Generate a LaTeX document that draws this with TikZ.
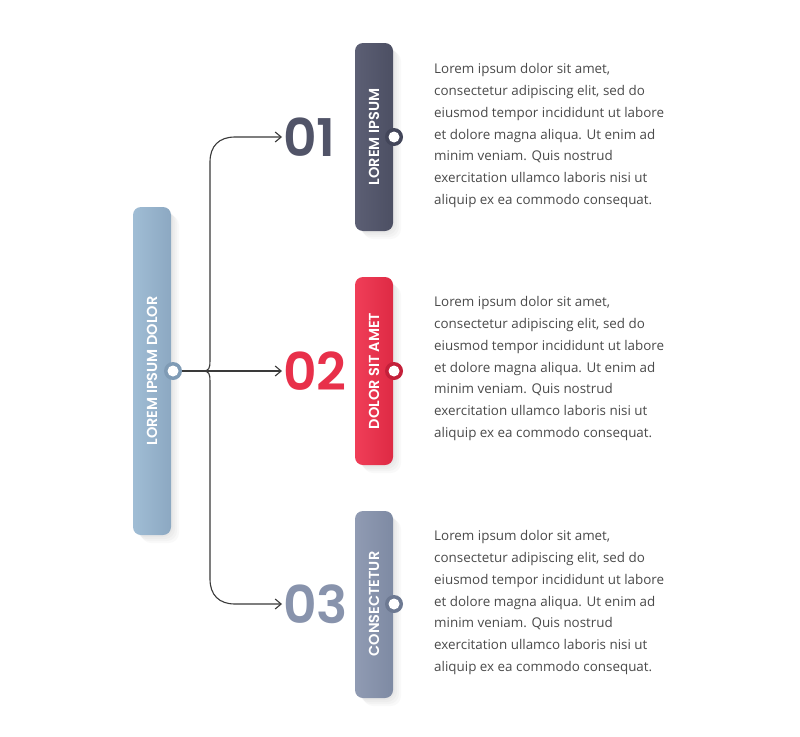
\documentclass[tikz,border=0pt]{standalone}
\usepackage{fontspec}
\setmainfont{Open Sans}
\newfontfamily\popfont{Poppins}[UprightFont={* SemiBold}]
\usetikzlibrary{arrows.meta}
\definecolor{lineC}{HTML}{3A3A3A}
\definecolor{txtC}{HTML}{4A4A4A}
\definecolor{barL}{HTML}{A0BDD5}
\definecolor{barR}{HTML}{8CA8C2}
\definecolor{barRing}{HTML}{7F9BB5}
\definecolor{oneL}{HTML}{5C5F74}
\definecolor{oneR}{HTML}{4C4F63}
\definecolor{oneRing}{HTML}{43465A}
\definecolor{oneNum}{HTML}{515468}
\definecolor{twoL}{HTML}{F03E58}
\definecolor{twoR}{HTML}{DE2A44}
\definecolor{twoRing}{HTML}{C4203A}
\definecolor{twoNum}{HTML}{E8304A}
\definecolor{thrL}{HTML}{909BB3}
\definecolor{thrR}{HTML}{7E8AA3}
\definecolor{thrRing}{HTML}{6D7992}
\definecolor{thrNum}{HTML}{8893AC}
\tikzset{
  barbox/.style={rounded corners=8pt},
  shadowbox/.style={rounded corners=10pt, fill=black, opacity=0.025},
  boxlabel/.style={rotate=90, text=white, font=\popfont\fontsize{14.5}{16}\selectfont, inner sep=0pt},
  numtext/.style={font=\popfont\fontsize{52}{54}\selectfont, inner sep=1pt, anchor=west},
  para/.style={anchor=north west, align=left, text=txtC, inner sep=0pt, font=\fontsize{13.4}{21.9}\selectfont},
  conn/.style={draw=lineC, line width=1.1pt},
  arr/.style={conn, -{Straight Barb[length=6pt,width=10pt,line width=1.1pt]}},
  ringout/.style={circle, minimum size=18pt, inner sep=0pt},
  ringin/.style={circle, fill=white, minimum size=11pt, inner sep=0pt}
}
\newcommand{\softshadow}[4]{%
  \foreach \d in {2,4,6,8}{\fill[shadowbox] (#1+\d,#2+\d) rectangle (#3+\d,#4+\d);}}
\begin{document}
\begin{tikzpicture}[x=1pt,y=-1pt]
\useasboundingbox (0,0) rectangle (800,736);
\fill[white] (0,0) rectangle (800,736);
% shadows
\softshadow{133}{207}{171}{535}
\softshadow{355}{43}{393}{231}
\softshadow{355}{277}{393}{465}
\softshadow{355}{511}{393}{698}
% left bar
\shade[barbox, left color=barL, right color=barR] (133,207) rectangle (171,535);
\node[boxlabel] (lbl) at (152,371) {LOREM IPSUM DOLOR};
\node[ringout, fill=barRing] (lc) at (173,371) {};
\node[ringin] at (lc) {};
% box 1
\shade[barbox, left color=oneL, right color=oneR] (355,43) rectangle (393,231);
\node[boxlabel] (b1) at (374,137) {LOREM IPSUM};
\node[ringout, fill=oneRing] (c1) at (394,137) {};
\node[ringin] at (c1) {};
% box 2
\shade[barbox, left color=twoL, right color=twoR] (355,277) rectangle (393,465);
\node[boxlabel] (b2) at (374,371) {DOLOR SIT AMET};
\node[ringout, fill=twoRing] (c2) at (394,371) {};
\node[ringin] at (c2) {};
% box 3
\shade[barbox, left color=thrL, right color=thrR] (355,511) rectangle (393,698);
\node[boxlabel] (b3) at (374,604) {CONSECTETUR};
\node[ringout, fill=thrRing] (c3) at (394,604) {};
\node[ringin] at (c3) {};
% numbers
\node[numtext, text=oneNum] (n1) at (282,137) {01};
\node[numtext, text=twoNum] (n2) at (282,371) {02};
\node[numtext, text=thrNum] (n3) at (282,604) {03};
% connectors
\coordinate (tip) at (203,371);
\draw[arr] (tip) .. controls (209,371) and (210,368) .. (210,361) -- (210,162) .. controls (210,146) and (219,137) .. (235,137) -- (n1.west);
\draw[arr] (tip) .. controls (209,371) and (210,374) .. (210,381) -- (210,579) .. controls (210,595) and (219,604) .. (235,604) -- (n3.west);
\draw[arr] (lc.east) -- (n2.west);
% paragraphs
\node[para] (p1) at (434,63) {Lorem ipsum dolor sit amet,\\consectetur adipiscing elit, sed do\\eiusmod tempor incididunt ut labore\\et dolore magna aliqua. Ut enim ad\\minim veniam. Quis nostrud\\exercitation ullamco laboris nisi ut\\aliquip ex ea commodo consequat.};
\node[para] (p2) at (434,296) {Lorem ipsum dolor sit amet,\\consectetur adipiscing elit, sed do\\eiusmod tempor incididunt ut labore\\et dolore magna aliqua. Ut enim ad\\minim veniam. Quis nostrud\\exercitation ullamco laboris nisi ut\\aliquip ex ea commodo consequat.};
\node[para] (p3) at (434,530) {Lorem ipsum dolor sit amet,\\consectetur adipiscing elit, sed do\\eiusmod tempor incididunt ut labore\\et dolore magna aliqua. Ut enim ad\\minim veniam. Quis nostrud\\exercitation ullamco laboris nisi ut\\aliquip ex ea commodo consequat.};
\end{tikzpicture}
\end{document}
